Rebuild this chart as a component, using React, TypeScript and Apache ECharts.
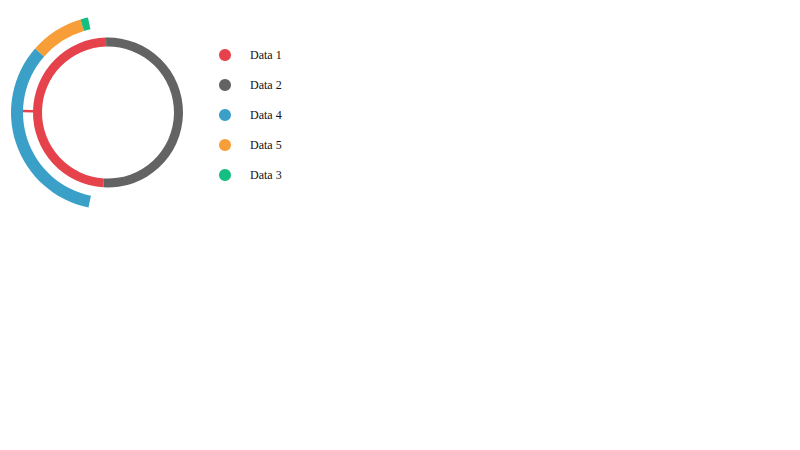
import React, { useEffect, useRef } from "react";
import * as echarts from "echarts";

const innerNames = ["Data 1", "Data 2"];
const innerValues = [48.6, 51.4];
const outerNames = ["Data 4", "Data 5", "Data 3"];
const outerValues = [76.4, 20.6, 2.9];
const innerColors = ["#E5424C", "#636363"];
const outerColors = ["#3AA0C8", "#F79E38", "#14BF81"];
const legendOrder = ["Data 1", "Data 2", "Data 4", "Data 5", "Data 3"];

export default function App() {
  const ref = useRef<HTMLDivElement>(null);
  useEffect(() => {
    if (!ref.current) return;
    const chart = echarts.init(ref.current, undefined, { renderer: "svg" });
    chart.setOption({
      animation: false,
      legend: {
        orient: "vertical",
        left: 214,
        top: 44,
        icon: "circle",
        itemWidth: 40,
        itemHeight: 12,
        itemGap: 18,
        data: legendOrder,
        textStyle: { fontFamily: "Liberation Serif", fontSize: 12, color: "#111" },
      },
      series: [
        {
          type: "pie",
          center: [108, 112.5],
          radius: [66, 75],
          startAngle: 266.5,
          clockwise: true,
          label: { show: false },
          labelLine: { show: false },
          data: innerNames.map((n, i) => ({
            name: n,
            value: innerValues[i],
            itemStyle: { color: innerColors[i] },
            ...(i === 0
              ? {
                  label: { show: true, position: "outside", formatter: "" },
                  labelLine: { show: true, length: 10, length2: 0, lineStyle: { width: 2.5 } },
                }
              : {}),
          })),
        },
        {
          type: "pie",
          center: [108, 112.5],
          radius: [85, 97],
          startAngle: 258.4,
          endAngle: 101.9,
          clockwise: true,
          label: { show: false },
          labelLine: { show: false },
          data: outerNames.map((n, i) => ({
            name: n,
            value: outerValues[i],
            itemStyle: { color: outerColors[i] },
          })),
        },
      ],
    });
    return () => chart.dispose();
  }, []);
  return (
    <div
      ref={ref}
      style={{ position: "fixed", left: 0, top: 0, width: 800, height: 450, background: "#fff" }}
    />
  );
}
